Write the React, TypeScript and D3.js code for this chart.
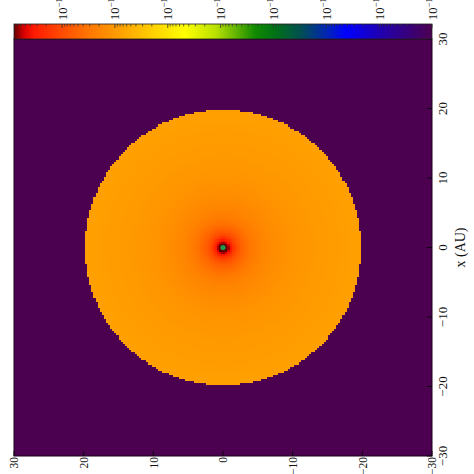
import React, { useMemo } from 'react'
import * as d3 from 'd3'

// extent of the map (AU) and the grid it was sampled on
const axisTicks = [30, 20, 10, 0, -10, -20, -30]
const gridCells = 200
const diskRadius = 19.8

// radial profile of the disk (log10 density)
const profileR = [0.3, 0.6, 1, 1.5, 2, 3, 5, 8, 12, 16, 20]
const profileLogRho = [-9.6, -10.0, -10.4, -10.8, -11.05, -11.35, -11.65, -11.85, -11.98, -12.05, -12.1]
const backgroundLogRho = -18

// colour bar
const cbarMax = -10.09
const cbarMin = -18
const cbarExponents = [-11, -12, -13, -14, -15, -16, -17, -18]
const cmapStops = [0, 0.024, 0.048, 0.11, 0.182, 0.254, 0.325, 0.41, 0.483, 0.577, 0.627, 0.684, 0.756, 0.794, 0.876, 0.947, 1]
const cmapColors = ['#640000', '#d80000', '#ff1a00', '#ff4800', '#ff7800', '#ffa000', '#ffcc00', '#ffff00', '#b8e000', '#108a00', '#007018', '#005050', '#0020c0', '#0000ff', '#2000b0', '#3a0078', '#4c0050']

// central object
const starPos = [[0, 0]]

const W = 474
const H = 474
const x0 = 14, x1 = 432, y0 = 39, y1 = 456
const cbTop = 24

export default function App() {
  const xScale = d3.scaleLinear().domain([30, -30]).range([x0, x1])
  const yScale = d3.scaleLinear().domain([30, -30]).range([y0, y1])
  const cPos = d3.scaleLinear().domain([cbarMax, cbarMin]).range([0, 1]).clamp(true)
  const cmap = d3.scaleLinear<string>().domain(cmapStops).range(cmapColors).interpolate(d3.interpolateRgb)
  const profile = d3.scaleLinear().domain(profileR.map(Math.log10)).range(profileLogRho).clamp(true)
  const cbX = d3.scaleLinear().domain([cbarMax, cbarMin]).range([x0, x1])

  const cells = useMemo(() => {
    const out: { x: number; y: number; c: string }[] = []
    const step = 60 / gridCells
    for (let i = 0; i < gridCells; i++) {
      for (let j = 0; j < gridCells; j++) {
        const cx = -30 + (i + 0.5) * step
        const cy = -30 + (j + 0.5) * step
        const r = Math.hypot(cx, cy)
        if (r > diskRadius) continue
        const v = profile(Math.log10(Math.max(r, 0.05)))
        out.push({ x: cx, y: cy, c: cmap(cPos(v)) })
      }
    }
    return out
  }, [])

  const step = 60 / gridCells
  const cw = Math.abs(xScale(step) - xScale(0))
  const ch = Math.abs(yScale(step) - yScale(0))

  const minorTicks: number[] = []
  cbarExponents.forEach(e => {
    for (let k = 2; k <= 9; k++) {
      const v = e + Math.log10(k)
      if (v <= cbarMax && v >= cbarMin) minorTicks.push(v)
    }
  })

  const font = "'Liberation Serif', 'DejaVu Serif', serif"

  return (
    <svg width={W} height={H} style={{ position: 'fixed', left: 0, top: 0, background: '#fff' }} fontFamily={font}>
      <defs>
        <linearGradient id="cbar" x1="0" x2="1" y1="0" y2="0">
          {cmapStops.map((s, i) => (
            <stop key={i} offset={s} stopColor={cmapColors[i]} />
          ))}
        </linearGradient>
      </defs>

      {/* map */}
      <rect x={x0} y={y0} width={x1 - x0} height={y1 - y0} fill={cmap(cPos(backgroundLogRho))} />
      <g shapeRendering="crispEdges">
        {cells.map((d, i) => (
          <rect key={i} x={xScale(d.x) - cw / 2} y={yScale(d.y) - ch / 2} width={cw + 0.3} height={ch + 0.3} fill={d.c} />
        ))}
      </g>
      {starPos.map((p, i) => (
        <circle key={i} cx={xScale(p[0])} cy={yScale(p[1])} r={2.6} fill="#1f9a4e" />
      ))}
      <rect x={x0} y={y0} width={x1 - x0} height={y1 - y0} fill="none" stroke="#1a0018" strokeWidth={1} />

      {/* axis ticks */}
      {axisTicks.map(t => (
        <g key={'t' + t} stroke="#000" strokeWidth={0.8}>
          <line x1={xScale(t)} x2={xScale(t)} y1={y1} y2={y1 - 5} />
          <line x1={x1} x2={x1 - 5} y1={yScale(t)} y2={yScale(t)} />
        </g>
      ))}

      {/* bottom labels */}
      {axisTicks.map(t => (
        <text key={'b' + t} transform={`translate(${xScale(t) + 4.2},${y1 + 1}) rotate(-90)`} textAnchor="end" fontSize={11.5} fill="#111">
          {t < 0 ? '\u2212' + Math.abs(t) : t}
        </text>
      ))}

      {/* right labels */}
      {axisTicks.map(t => (
        <text key={'r' + t} transform={`translate(${x1 + 15},${yScale(t)}) rotate(-90)`} textAnchor="middle" fontSize={13} fill="#111">
          {t < 0 ? '\u2212' + Math.abs(t) : t}
        </text>
      ))}
      <text transform={`translate(${x1 + 33},${yScale(0)}) rotate(-90)`} textAnchor="middle" fontSize={14} fill="#111">
        x (AU)
      </text>

      {/* colour bar */}
      <rect x={x0} y={cbTop} width={x1 - x0} height={y0 - cbTop} fill="url(#cbar)" stroke="#222" strokeWidth={0.8} />
      {minorTicks.map((v, i) => (
        <line key={'m' + i} x1={cbX(v)} x2={cbX(v)} y1={cbTop} y2={cbTop + 2.5} stroke="#333" strokeWidth={0.7} />
      ))}
      {cbarExponents.map(e => (
        <line key={'M' + e} x1={cbX(e)} x2={cbX(e)} y1={cbTop} y2={cbTop + 4} stroke="#333" strokeWidth={0.8} />
      ))}
      {cbarExponents.map(e => (
        <text key={'c' + e} transform={`translate(${cbX(e) + 4.5},${cbTop - 4}) rotate(-90)`} fontSize={12.5} fill="#111">
          <tspan>10</tspan>
          <tspan dy={-5} fontSize={9}>{'\u2212' + Math.abs(e)}</tspan>
        </text>
      ))}
    </svg>
  )
}
